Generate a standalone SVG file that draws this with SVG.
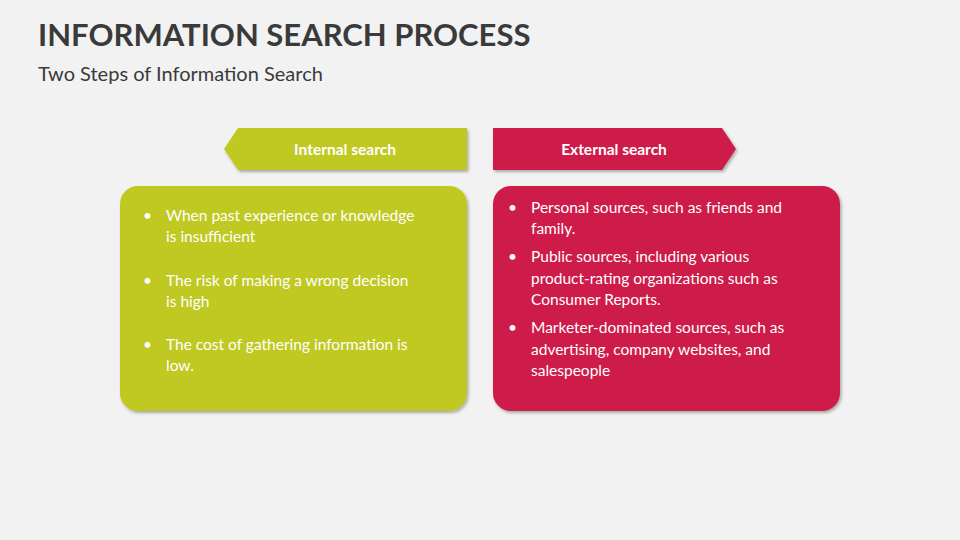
<svg xmlns="http://www.w3.org/2000/svg" width="960" height="540" viewBox="0 0 960 540">
<defs>
<style>
.t{font-family:Lato,"Open Sans",sans-serif;fill:#fff;font-size:15.5px}
.h{font-family:Lato,"Open Sans",sans-serif;fill:#fff;font-size:15.5px;font-weight:bold}
</style>
<filter id="sh" x="-10%" y="-10%" width="120%" height="130%"><feDropShadow dx="1.5" dy="2" stdDeviation="1.5" flood-color="#000" flood-opacity="0.3"/></filter>
</defs>
<rect width="960" height="540" fill="#f2f2f2"/>
<text x="38" y="46" font-family="Lato,'Open Sans',sans-serif" font-weight="bold" font-size="31" fill="#3a3a3a">INFORMATION SEARCH PROCESS</text>
<text x="38" y="81" font-family="Lato,'Open Sans',sans-serif" font-size="20" fill="#3a3a3a">Two Steps of Information Search</text>
<g id="internal-header">
<polygon points="224,149 238,128 467,128 467,170 238,170" fill="#c0c921" filter="url(#sh)"/>
<text class="h" x="345" y="155" text-anchor="middle">Internal search</text>
</g>
<g id="external-header">
<polygon points="493,128 722,128 736,149 722,170 493,170" fill="#cd1a4a" filter="url(#sh)"/>
<text class="h" x="614" y="155" text-anchor="middle">External search</text>
</g>
<g id="internal-box">
<rect x="120" y="186" width="347" height="225" rx="18" fill="#c0c921" filter="url(#sh)"/>
<g class="t">
<text x="143" y="221">•</text><text x="166" y="221">When past experience or knowledge</text><text x="166" y="242">is insufficient</text>
<text x="143" y="286">•</text><text x="166" y="286">The risk of making a wrong decision</text><text x="166" y="307">is high</text>
<text x="143" y="350">•</text><text x="166" y="350">The cost of gathering information is</text><text x="166" y="371">low.</text>
</g>
</g>
<g id="external-box">
<rect x="493" y="186" width="347" height="225" rx="18" fill="#cd1a4a" filter="url(#sh)"/>
<g class="t">
<text x="508" y="213">•</text><text x="531" y="213">Personal sources, such as friends and</text><text x="531" y="234">family.</text>
<text x="508" y="262">•</text><text x="531" y="262">Public sources, including various</text><text x="531" y="284">product-rating organizations such as</text><text x="531" y="305">Consumer Reports.</text>
<text x="508" y="333">•</text><text x="531" y="333">Marketer-dominated sources, such as</text><text x="531" y="355">advertising, company websites, and</text><text x="531" y="376">salespeople</text>
</g>
</g>
<g id="connectors"/>
</svg>
